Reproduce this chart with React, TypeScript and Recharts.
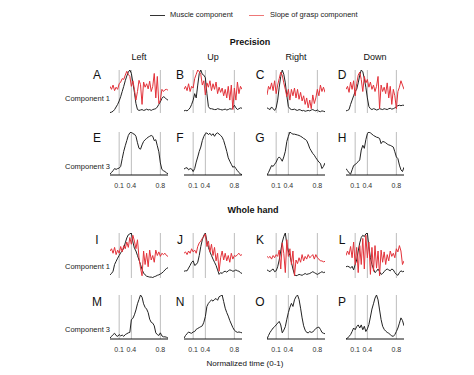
import { LineChart, Line, XAxis, YAxis, ReferenceLine } from "recharts";

// sample index along normalized time; event lines sit on these samples
const EVENT_IDX = [6, 14, 33];
const EVENT_LABELS = ["0.1", "0.4", "0.8"];
const DIRECTIONS = ["Left", "Up", "Right", "Down"];

// Precision, component 1 (muscle = black, slope = red)
const A_MUSCLE = [0.01,0.02,0.04,0.08,0.14,0.2,0.28,0.38,0.5,0.62,0.75,0.86,0.95,1.0,0.92,0.7,0.48,0.22,0.08,0.06,0.07,0.08,0.06,0.07,0.09,0.07,0.08,0.06,0.08,0.09,0.1,0.14,0.2,0.26,0.34,0.38,0.36,0.32,0.3];
const A_SLOPE = [0.62,0.55,0.65,0.52,0.6,0.55,0.68,0.72,0.8,0.78,0.88,0.97,0.9,0.85,0.62,0.75,0.55,0.3,0.5,0.76,0.66,0.2,0.72,0.6,0.68,0.56,0.74,0.5,0.62,0.92,0.35,0.85,0.22,0.3,0.55,0.5,0.54,0.55,0.53];
const B_MUSCLE = [0.05,0.06,0.05,0.08,0.12,0.2,0.3,0.45,0.35,0.65,0.92,1.0,0.9,0.88,0.82,0.45,0.15,0.1,0.1,0.09,0.08,0.08,0.1,0.09,0.08,0.07,0.08,0.09,0.07,0.08,0.1,0.09,0.12,0.18,0.12,0.08,0.1,0.12,0.11];
const B_SLOPE = [0.55,0.62,0.52,0.68,0.5,0.62,0.58,0.8,0.9,1.0,0.96,0.9,0.65,0.75,0.42,0.7,0.6,0.75,0.52,0.68,0.55,0.72,0.45,0.6,0.48,0.58,0.4,0.55,0.35,0.62,0.3,0.65,0.08,0.58,0.3,0.72,0.45,0.62,0.55];
const C_MUSCLE = [0.12,0.1,0.08,0.14,0.1,0.06,0.12,0.3,0.6,0.85,1.0,0.9,0.7,0.4,0.15,0.1,0.08,0.08,0.09,0.07,0.06,0.08,0.07,0.05,0.06,0.04,0.05,0.06,0.05,0.07,0.08,0.06,0.05,0.07,0.04,0.03,0.05,0.04,0.03];
const C_SLOPE = [0.42,0.62,0.55,0.7,0.52,0.75,0.45,0.65,0.8,0.95,0.88,0.7,0.55,0.38,0.55,0.3,0.55,0.4,0.58,0.35,0.55,0.32,0.48,0.28,0.4,0.2,0.35,0.12,0.3,0.1,0.42,0.22,0.35,0.55,0.4,0.65,0.5,0.6,0.48];
const D_MUSCLE = [0.05,0.06,0.08,0.2,0.3,0.4,0.5,0.55,0.7,0.88,1.0,0.96,0.8,0.6,0.35,0.15,0.1,0.08,0.1,0.09,0.07,0.08,0.1,0.09,0.08,0.1,0.09,0.08,0.1,0.11,0.09,0.1,0.12,0.15,0.17,0.18,0.17,0.18,0.18];
const D_SLOPE = [0.55,0.62,0.48,0.72,0.55,0.75,0.4,0.68,0.88,0.95,0.78,0.5,0.85,0.7,0.78,0.6,0.72,0.55,0.65,0.5,0.62,0.85,0.1,0.65,0.5,0.6,0.45,0.7,0.35,0.62,0.2,0.55,0.4,0.1,0.5,0.6,0.75,0.65,0.55];

// Precision, component 3
const E_MUSCLE = [0.02,0.06,0.1,0.15,0.13,0.15,0.16,0.2,0.38,0.55,0.68,0.8,0.92,0.98,1.0,0.96,0.95,0.9,0.75,0.62,0.6,0.7,0.78,0.82,0.85,0.88,0.9,0.92,0.9,0.8,0.82,0.68,0.54,0.28,0.13,0.1,0.08,0.05,0.03];
const F_MUSCLE = [0.14,0.16,0.17,0.12,0.15,0.14,0.08,0.15,0.3,0.42,0.55,0.65,0.8,0.9,0.96,0.98,0.94,0.97,0.92,0.96,0.9,0.96,0.98,0.95,0.92,0.88,0.8,0.68,0.55,0.4,0.32,0.25,0.18,0.2,0.15,0.1,0.06,0.02,0.01];
const G_MUSCLE = [0.0,0.06,0.14,0.22,0.2,0.25,0.3,0.38,0.42,0.38,0.32,0.42,0.55,0.78,0.9,1.0,0.97,0.95,0.95,0.94,0.93,0.92,0.9,0.88,0.85,0.83,0.8,0.72,0.62,0.56,0.5,0.46,0.4,0.35,0.3,0.27,0.15,0.2,0.28];
const H_MUSCLE = [0.15,0.1,0.05,0.02,0.12,0.22,0.24,0.28,0.31,0.35,0.58,0.69,0.62,0.82,0.96,1.0,0.98,0.95,0.92,0.9,0.88,0.87,0.85,0.73,0.78,0.77,0.75,0.72,0.7,0.69,0.67,0.65,0.54,0.42,0.38,0.23,0.12,0.08,0.18];

// Whole hand, component 1
const I_MUSCLE = [0.07,0.1,0.15,0.3,0.37,0.44,0.5,0.56,0.6,0.67,0.78,0.89,0.96,0.98,1.0,0.8,0.66,0.6,0.5,0.4,0.3,0.19,0.11,0.07,0.04,0.03,0.02,0.02,0.01,0.03,0.04,0.06,0.07,0.09,0.11,0.14,0.18,0.21,0.23];
const I_SLOPE = [0.6,0.65,0.55,0.68,0.52,0.62,0.55,0.7,0.58,0.72,0.65,0.8,0.68,0.9,0.75,0.95,0.82,0.65,0.85,0.45,0.22,0.05,0.6,0.3,0.55,0.25,0.62,0.4,0.5,0.35,0.62,0.5,0.58,0.48,0.55,0.52,0.55,0.5,0.48];
const J_MUSCLE = [0.15,0.16,0.16,0.22,0.28,0.35,0.38,0.28,0.3,0.35,0.5,0.7,0.85,0.95,1.0,0.82,0.68,0.58,0.5,0.42,0.35,0.28,0.18,0.08,0.12,0.1,0.14,0.15,0.13,0.16,0.18,0.17,0.15,0.16,0.18,0.16,0.15,0.12,0.1];
const J_SLOPE = [0.55,0.58,0.52,0.6,0.55,0.65,0.58,0.62,0.55,0.7,0.78,0.82,0.88,0.92,0.98,0.7,0.82,0.58,0.75,0.5,0.68,0.38,0.55,0.15,0.45,0.6,0.4,0.55,0.38,0.5,0.35,0.55,0.42,0.5,0.48,0.52,0.55,0.5,0.52];
const K_MUSCLE = [0.18,0.16,0.14,0.18,0.2,0.14,0.16,0.25,0.4,0.6,0.8,0.92,1.0,0.75,0.6,0.5,0.35,0.2,0.08,0.05,0.06,0.08,0.07,0.06,0.08,0.1,0.08,0.09,0.1,0.12,0.14,0.12,0.1,0.08,0.1,0.12,0.14,0.12,0.13];
const K_SLOPE = [0.48,0.45,0.48,0.42,0.5,0.45,0.52,0.48,0.62,0.2,0.78,0.55,0.12,0.85,0.48,0.65,0.3,0.6,0.05,0.4,0.32,0.45,0.35,0.52,0.38,0.48,0.42,0.52,0.45,0.48,0.52,0.42,0.52,0.45,0.42,0.38,0.38,0.36,0.37];
const L_MUSCLE = [0.25,0.26,0.25,0.22,0.26,0.18,0.3,0.4,0.6,0.78,0.9,0.95,0.92,0.98,1.0,0.7,0.45,0.3,0.2,0.12,0.15,0.2,0.14,0.08,0.1,0.14,0.18,0.2,0.18,0.16,0.2,0.18,0.12,0.08,0.06,0.12,0.16,0.14,0.15];
const L_SLOPE = [0.5,0.6,0.52,0.7,0.45,0.8,0.3,0.68,0.12,0.72,0.3,0.88,0.2,0.95,0.45,0.8,0.08,0.68,0.15,0.72,0.22,0.6,0.05,0.62,0.35,0.58,0.3,0.52,0.38,0.6,0.48,0.55,0.45,0.65,0.58,0.72,0.6,0.3,0.38];

// Whole hand, component 3
const M_MUSCLE = [0.02,0.06,0.1,0.13,0.08,0.06,0.1,0.07,0.09,0.06,0.1,0.12,0.14,0.15,0.44,0.47,0.55,0.66,0.8,0.9,1.0,0.95,0.8,0.72,0.68,0.6,0.45,0.38,0.36,0.3,0.14,0.1,0.08,0.14,0.07,0.05,0.05,0.04,0.02];
const N_MUSCLE = [0.02,0.08,0.12,0.16,0.14,0.13,0.16,0.17,0.22,0.24,0.26,0.28,0.3,0.38,0.51,0.74,0.81,0.85,0.89,0.86,0.9,0.92,0.88,0.96,0.98,1.0,0.85,0.7,0.6,0.52,0.42,0.34,0.26,0.2,0.17,0.15,0.16,0.15,0.14];
const O_MUSCLE = [0.0,0.08,0.15,0.2,0.25,0.28,0.32,0.36,0.4,0.32,0.14,0.2,0.28,0.45,0.6,0.72,0.81,0.74,0.89,0.96,1.0,0.9,0.7,0.48,0.3,0.2,0.15,0.14,0.17,0.15,0.16,0.2,0.24,0.26,0.27,0.22,0.15,0.13,0.12];
const P_MUSCLE = [0.0,0.02,0.06,0.1,0.17,0.25,0.21,0.28,0.32,0.25,0.32,0.21,0.29,0.17,0.23,0.33,0.5,0.68,0.8,0.93,1.0,0.89,0.66,0.44,0.29,0.22,0.18,0.15,0.13,0.1,0.07,0.06,0.1,0.17,0.25,0.36,0.48,0.42,0.3];

const FONT = '"Liberation Sans", Arial, sans-serif';
const BLACK = "#222";
const RED = "#e3323a";
const GRID = "#bdbdbd";
const COL_LEFT = [110, 184, 267, 346];
const PLOT_W = 58;
const AXIS_H = 16;

type PanelProps = {
  left: number;
  top: number;
  height: number;
  muscle: number[];
  slope?: number[];
  axis?: boolean;
};

function Panel({ left, top, height, muscle, slope, axis }: PanelProps) {
  const data = muscle.map((v, i) => ({ t: i, muscle: v, slope: slope ? slope[i] : null }));
  return (
    <div style={{ position: "absolute", left, top }}>
      <LineChart
        width={PLOT_W}
        height={height + (axis ? AXIS_H : 0)}
        data={data}
        margin={{ top: 0, right: 0, bottom: 0, left: 0 }}
      >
        <XAxis
          type="number"
          dataKey="t"
          domain={[0, muscle.length - 1]}
          ticks={EVENT_IDX}
          interval={0}
          tickFormatter={(v) => EVENT_LABELS[EVENT_IDX.indexOf(v)] ?? ""}
          hide={!axis}
          height={axis ? AXIS_H : 0}
          tickLine={false}
          axisLine={{ stroke: "#111" }}
          tick={{ fontSize: 7, fill: "#333", fontFamily: FONT }}
        />
        <YAxis hide domain={[0, 1]} />
        {EVENT_IDX.map((x) => (
          <ReferenceLine key={x} x={x} stroke={GRID} strokeWidth={1} />
        ))}
        <Line
          type="linear"
          dataKey="muscle"
          stroke={BLACK}
          strokeWidth={1}
          dot={false}
          isAnimationActive={false}
        />
        {slope && (
          <Line
            type="linear"
            dataKey="slope"
            stroke={RED}
            strokeWidth={1}
            dot={false}
            isAnimationActive={false}
          />
        )}
      </LineChart>
    </div>
  );
}

function Label({ x, y, text, size = 8, bold = false }: { x: number; y: number; text: string; size?: number; bold?: boolean }) {
  return (
    <div
      style={{
        position: "absolute",
        left: x,
        top: y,
        transform: "translate(-50%, -50%)",
        fontSize: size,
        fontWeight: bold ? 700 : 400,
        lineHeight: 1,
        whiteSpace: "nowrap",
        color: "#111",
      }}
    >
      {text}
    </div>
  );
}

export default function App() {
  const rows = [
    { top: 70, height: 43, letters: ["A", "B", "C", "D"], letterY: 75, series: [A_MUSCLE, B_MUSCLE, C_MUSCLE, D_MUSCLE], slopes: [A_SLOPE, B_SLOPE, C_SLOPE, D_SLOPE], label: "Component 1", labelY: 99 },
    { top: 132, height: 43, letters: ["E", "F", "G", "H"], letterY: 138, series: [E_MUSCLE, F_MUSCLE, G_MUSCLE, H_MUSCLE], label: "Component 3", labelY: 167 },
    { top: 233, height: 45, letters: ["I", "J", "K", "L"], letterY: 240, series: [I_MUSCLE, J_MUSCLE, K_MUSCLE, L_MUSCLE], slopes: [I_SLOPE, J_SLOPE, K_SLOPE, L_SLOPE], label: "Component 1", labelY: 267 },
    { top: 295, height: 44, letters: ["M", "N", "O", "P"], letterY: 302, series: [M_MUSCLE, N_MUSCLE, O_MUSCLE, P_MUSCLE], label: "Component 3", labelY: 330 },
  ];
  const letterX = [97, 180, 260, 342];

  return (
    <div
      style={{
        position: "absolute",
        left: 0,
        top: 0,
        width: 474,
        height: 375,
        background: "#fff",
        fontFamily: FONT,
        overflow: "hidden",
      }}
    >
      {/* legend */}
      <div style={{ position: "absolute", left: 150, top: 15, width: 15, height: 1, background: "#333" }} />
      <div style={{ position: "absolute", left: 170, top: 10, fontSize: 7.5, lineHeight: "10px", color: "#222" }}>
        Muscle component
      </div>
      <div style={{ position: "absolute", left: 249, top: 15, width: 15, height: 1, background: "#e77" }} />
      <div style={{ position: "absolute", left: 270, top: 10, fontSize: 7.5, lineHeight: "10px", color: "#222" }}>
        Slope of grasp component
      </div>

      <Label x={250} y={42} text="Precision" size={9} bold />
      <Label x={253} y={210} text="Whole hand" size={9} bold />
      {DIRECTIONS.map((d, i) => (
        <Label key={d} x={COL_LEFT[i] + PLOT_W / 2} y={57} text={d} size={9} />
      ))}

      {rows.map((row, r) => (
        <div key={r}>
          <div
            style={{
              position: "absolute",
              right: 474 - 110,
              top: row.labelY - 5,
              fontSize: 7.5,
              lineHeight: "10px",
              whiteSpace: "nowrap",
              color: "#222",
            }}
          >
            {row.label}
          </div>
          {row.series.map((s, c) => (
            <div key={c}>
              <Label x={letterX[c]} y={row.letterY} text={row.letters[c]} size={12} />
              <Panel
                left={COL_LEFT[c]}
                top={row.top}
                height={row.height}
                muscle={s}
                slope={row.slopes ? row.slopes[c] : undefined}
                axis={!row.slopes}
              />
            </div>
          ))}
        </div>
      ))}

      <Label x={245} y={364} text="Normalized time (0-1)" size={8} />
    </div>
  );
}
